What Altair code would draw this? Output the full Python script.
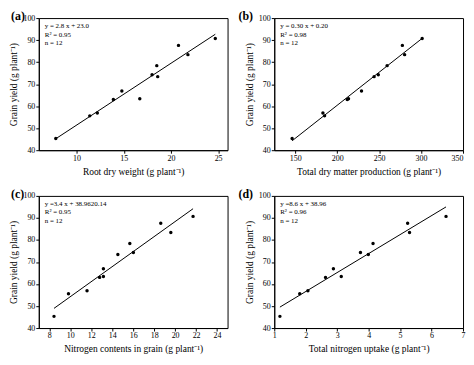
import altair as alt
import pandas as pd

# Grain yield (g plant-1), same 12 treatments in every panel
grain = [45.3, 55.6, 56.9, 63.0, 66.9, 63.4, 74.3, 78.4, 73.4, 87.6, 83.4, 90.7]
# x variables, same treatment order
root_dw = [7.8, 11.4, 12.2, 13.9, 14.8, 16.7, 18.0, 18.5, 18.6, 20.8, 21.8, 24.7]
tdm = [146.3, 185.0, 183.0, 212.0, 229.0, 213.5, 249.0, 259.5, 244.0, 277.7, 280.4, 301.3]
n_grain = [8.45, 9.83, 11.6, 12.8, 13.16, 13.16, 16.02, 15.68, 14.54, 18.63, 19.59, 21.71]
n_uptake = [1.18, 1.81, 2.07, 2.63, 2.88, 3.13, 3.74, 4.14, 3.99, 5.24, 5.30, 6.46]

x_titles = ["Root dry weight (g plant\u207b\u00b9)",
            "Total dry matter production (g plant\u207b\u00b9)",
            "Nitrogen contents in grain (g plant\u207b\u00b9)",
            "Total nitrogen uptake (g plant\u207b\u00b9)"]
x_domains = [[6, 26], [125, 350], [7, 25], [1, 7]]
x_ticks = [[10, 15, 20, 25], [150, 200, 250, 300, 350],
           [8, 10, 12, 14, 16, 18, 20, 22, 24], [1, 2, 3, 4, 5, 6, 7]]
y_ticks = [40, 50, 60, 70, 80, 90, 100]
equations = [["y = 2.8 x + 23.0", "R\u00b2 = 0.95", "n = 12"],
             ["y = 0.30 x + 0.20", "R\u00b2 = 0.98", "n = 12"],
             ["y =3.4 x + 38.9620.14", "R\u00b2 = 0.95", "n = 12"],
             ["y =8.6 x + 38.96", "R\u00b2 = 0.96", "n = 12"]]
tags = ["(a)", "(b)", "(c)", "(d)"]
xs = [root_dw, tdm, n_grain, n_uptake]

FONT = "Liberation Serif"
W, H = 190, 133


def panel(i):
    df = pd.DataFrame({"x": xs[i], "y": grain})
    one = pd.DataFrame({"k": [0]})
    xenc = alt.X("x:Q",
                 scale=alt.Scale(domain=x_domains[i], nice=False, zero=False),
                 axis=alt.Axis(values=x_ticks[i], title=x_titles[i],
                               labelFlush=(i == 1)))
    yenc = alt.Y("y:Q",
                 scale=alt.Scale(domain=[40, 100], nice=False, zero=False),
                 axis=alt.Axis(values=y_ticks, title="Grain yield (g plant\u207b\u00b9)"))
    pts = alt.Chart(df).mark_circle(size=12, color="black", opacity=1).encode(x=xenc, y=yenc)
    line = (alt.Chart(df).transform_regression("x", "y")
            .mark_line(color="black", strokeWidth=1).encode(x=xenc, y=yenc))
    eq = alt.Chart(one).mark_text(align="left", baseline="top", font=FONT,
                                  fontSize=7, lineHeight=8.7, color="black").encode(
        x=alt.value(6), y=alt.value(4), text=alt.value(equations[i]))
    tag = alt.Chart(one).mark_text(align="left", baseline="top", font=FONT,
                                   fontSize=12, fontWeight="bold", color="black").encode(
        x=alt.value(-28 if i % 2 == 0 else -36), y=alt.value(-7), text=alt.value(tags[i]))
    return alt.layer(pts, line, eq, tag).properties(width=W, height=H)


chart = alt.concat(*[panel(i) for i in range(4)], columns=2,
                   spacing={"row": 46, "column": 47}, bounds="flush").configure(
    padding=0, background="white"
).configure_view(stroke="black", strokeWidth=1).configure_axis(
    grid=False, domainColor="black", domainWidth=1, tickColor="black", tickSize=3,
    tickWidth=1, labelFont=FONT, labelFontSize=8, labelColor="black", labelPadding=1,
    titleFont=FONT, titleFontSize=9.5, titleFontWeight="normal", titleColor="black",
    titlePadding=4
).configure_axisX(titlePadding=4)

chart.save("out.html", embed_options={"renderer": "svg", "actions": False})
